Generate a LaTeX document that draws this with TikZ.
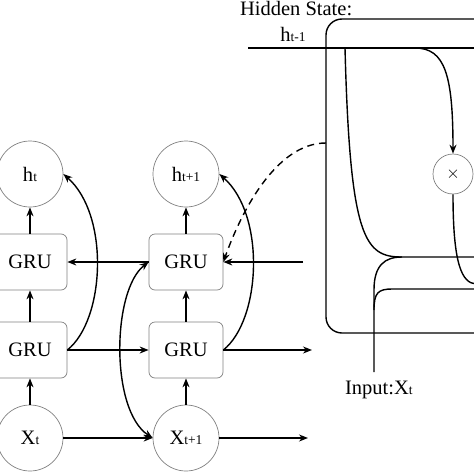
\documentclass[tikz,border=0pt]{standalone}
\usepackage{fontspec}
\setmainfont{Liberation Serif}
\usetikzlibrary{arrows.meta}
\usetikzlibrary{positioning}
\newcommand{\idx}[1]{{\fontsize{13.5}{16}\selectfont #1}}

\begin{document}
\begin{tikzpicture}
		[x=1pt, y=-1pt, node distance={88pt}, line width=1.4pt,
		>={Stealth[length=9pt,width=7pt]},
		main/.style = {draw=gray, line width=0.7pt, circle, minimum size=66pt, inner sep=0pt},
		gru/.style = {draw=gray, line width=0.7pt, rounded corners=6pt, minimum width=74pt, minimum height=56pt},
		every node/.append style = {font=\fontsize{20.5}{25}\selectfont}]
	\useasboundingbox (0,0) rectangle (474,474);
	% unrolled network
	\node[main] (h1) at (30,174) {h\idx{t}};
	\node[gru] (g1) [below of = h1] {GRU};
	\node[gru] (f1) [below of = g1] {GRU};
	\node[main] (x1) [below of = f1] {X\idx{t}};
	\node[main] (h2) at (186,174) {h\idx{t+1}};
	\node[gru] (g2) [below of = h2] {GRU};
	\node[gru] (f2) [below of = g2] {GRU};
	\node[main] (x2) [below of = f2] {X\idx{t+1}};
	\coordinate (inR) at (303,262);
	\coordinate (outF) at (312,350);
	\coordinate (outX) at (308,438);
	\draw[->] (x1) -- (f1);
	\draw[->] (f1) -- (g1);
	\draw[->] (g1) -- (h1);
	\draw[->] (x2) -- (f2);
	\draw[->] (f2) -- (g2);
	\draw[->] (g2) -- (h2);
	\draw[->] (g2.west) -- (g1.east);
	\draw[->] (f1.east) -- (f2.west);
	\draw[->] (x1.east) -- (x2.west);
	\draw[->] (inR) -- (g2.east);
	\draw[->] (f2.east) -- (outF);
	\draw[->] (x2.east) -- (outX);
	\draw[->] (f1.east) .. controls (105,320) and (110,215) .. (h1.east);
	\draw[->] (f2.east) .. controls (261,320) and (266,215) .. (h2.east);
	\draw[<->] (g2.west) .. controls (112,290) and (110,410) .. (x2.west);
	% hidden cell
	\coordinate (cellL) at (326,143);
	\draw[->, dash pattern=on 7pt off 5pt] (cellL) .. controls (275,143) and (240,215) .. (g2.east);
	\draw[rounded corners=16pt] (490,19) -- (326,19) -- (326,333) -- (490,333);
	\draw (248,48) -- (490,48);
	\node (hprev) at (293,34) {h\idx{t-1}};
	\node[anchor=base west] (hid) at (236,15) {Hidden State:};
	\node[anchor=base west] (inp) at (341,394) {Input:X\idx{t}};
	\draw (345,48) .. controls (350,240) and (365,257) .. (402,257) -- (490,257);
	\draw (374,372) -- (374,290) .. controls (374,265) and (385,257) .. (402,257);
	\draw (374,310) .. controls (374,293) and (378,289) .. (392,289) -- (490,289);
	\node[main, minimum size=40pt] (mul) at (453,174) {\fontsize{16}{18}\selectfont$\times$};
	\coordinate (tap) at (415,48);
	\coordinate (mulOut) at (476,284);
	\draw[->] (tap) .. controls (445,48) and (453,75) .. (mul.north);
	\draw (mul.south) .. controls (453,265) and (462,283) .. (mulOut);
\end{tikzpicture}
\end{document}
